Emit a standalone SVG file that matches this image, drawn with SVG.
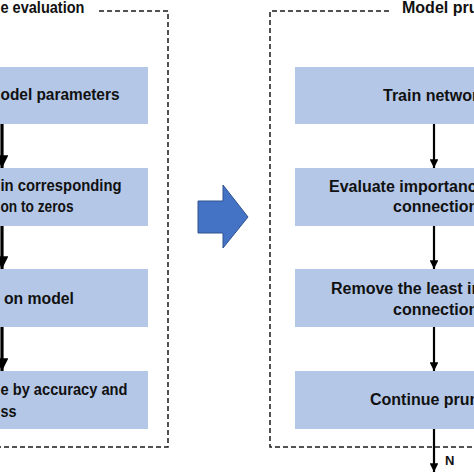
<svg xmlns="http://www.w3.org/2000/svg" width="474" height="474" viewBox="0 0 474 474">
<style>
.box{fill:#B4C7E7}
.t{font-family:"Liberation Sans",Arial,sans-serif;font-weight:bold;font-size:16px;fill:#111}
.dash{fill:none;stroke:#1a1a1a;stroke-width:1.5;stroke-dasharray:5,3}
.ln{stroke:#000;stroke-width:2.2}
</style>
<defs>
<marker id="ah" viewBox="0 0 10 10" refX="10" refY="5" markerWidth="4" markerHeight="4" orient="auto" markerUnits="strokeWidth"><path d="M0,0L10,5L0,10z" fill="#000"/></marker>
</defs>
<rect width="474" height="474" fill="#fff"/>
<g id="frame-left">
<path class="dash" d="M99,11H168V447H0"/>
<text class="t" x="0.5" y="13" textLength="84" lengthAdjust="spacingAndGlyphs">e evaluation</text>
</g>
<g id="frame-right">
<path class="dash" d="M389,11H270V447H474"/>
<text class="t" x="402" y="13">Model pru</text>
</g>
<g id="L1"><rect class="box" x="-10" y="67" width="158" height="57"/><text class="t" x="0.5" y="100" textLength="119" lengthAdjust="spacingAndGlyphs">odel parameters</text></g>
<g id="L2"><rect class="box" x="-10" y="168" width="158" height="58"/><text class="t" x="0.5" y="191" textLength="121" lengthAdjust="spacingAndGlyphs">in corresponding</text><text class="t" x="0.5" y="212" textLength="73" lengthAdjust="spacingAndGlyphs">on to zeros</text></g>
<g id="L3"><rect class="box" x="-10" y="269" width="158" height="58"/><text class="t" x="4" y="304" textLength="70" lengthAdjust="spacingAndGlyphs">on model</text></g>
<g id="L4"><rect class="box" x="-10" y="371" width="158" height="58"/><text class="t" x="0.5" y="395" textLength="127" lengthAdjust="spacingAndGlyphs">e by accuracy and</text><text class="t" x="0.5" y="417" textLength="16" lengthAdjust="spacingAndGlyphs">ss</text></g>
<g id="R1"><rect class="box" x="295" y="67" width="190" height="57"/><text class="t" x="383" y="101">Train networ</text></g>
<g id="R2"><rect class="box" x="295" y="168" width="190" height="58"/><text class="t" x="329" y="192">Evaluate importanc</text><text class="t" x="393" y="212">connection</text></g>
<g id="R3"><rect class="box" x="295" y="269" width="190" height="58"/><text class="t" x="331" y="294">Remove the least in</text><text class="t" x="393" y="315">connection</text></g>
<g id="R4"><rect class="box" x="295" y="371" width="190" height="58"/><text class="t" x="370" y="405">Continue prun</text></g>
<g id="bigarrow"><path d="M198,201H223V185L248,217L223,248V233H198Z" fill="#4472C4" stroke="#2F528F" stroke-width="1"/></g>
<g id="connectors">
<line class="ln" x1="2" y1="124" x2="2" y2="168" style="stroke-width:3.2" marker-end="url(#ah)"/>
<line class="ln" x1="2" y1="226" x2="2" y2="269" style="stroke-width:3.2" marker-end="url(#ah)"/>
<line class="ln" x1="2" y1="327" x2="2" y2="371" style="stroke-width:3.2" marker-end="url(#ah)"/>
<line class="ln" x1="434" y1="124" x2="434" y2="168" marker-end="url(#ah)"/>
<line class="ln" x1="434" y1="226" x2="434" y2="269" marker-end="url(#ah)"/>
<line class="ln" x1="434" y1="327" x2="434" y2="371" marker-end="url(#ah)"/>
<line class="ln" x1="434" y1="429" x2="434" y2="472" marker-end="url(#ah)"/>
<text class="t" x="445" y="465" style="font-size:13px">N</text>
</g>
</svg>
